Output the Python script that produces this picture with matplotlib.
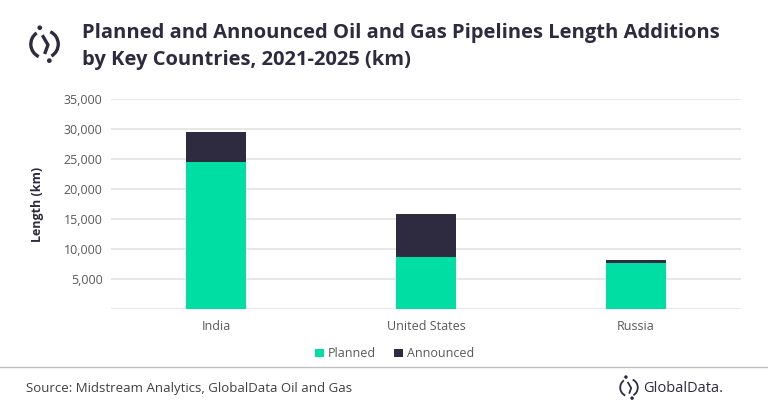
import matplotlib.pyplot as plt
from matplotlib.patches import Arc, Circle
from matplotlib.lines import Line2D

countries = ["India", "United States", "Russia"]
planned = [24600, 8700, 7600]
announced = [5000, 7100, 500]

GREEN = "#00dea4"
NAVY = "#2e2a3f"
GREY = "#595959"

plt.rcParams['font.family'] = ['Open Sans', 'DejaVu Sans']


def draw_logo(axl, lw, dots=True):
    axl.set_xlim(-1.4, 1.4)
    axl.set_ylim(-1.4, 1.4)
    axl.set_aspect("equal")
    axl.axis("off")
    axl.add_patch(Arc((0, 0), 2, 2, theta1=125, theta2=245, color=NAVY, lw=lw))
    axl.add_patch(Arc((0, 0), 2, 2, theta1=300, theta2=65, color=NAVY, lw=lw))
    axl.plot([-0.1, 0.25, 0.05], [0.55, -0.05, -0.6], color=NAVY, lw=lw)
    if dots:
        axl.add_patch(Circle((-0.35, 1.2), 0.12, color=NAVY))
        axl.add_patch(Circle((0.35, -1.2), 0.12, color=NAVY))


fig = plt.figure(figsize=(7.68, 4.11), dpi=100)
ax = fig.add_axes([0.1445, 0.2482, 0.8203, 0.5102])

x = range(len(countries))
ax.bar(x, planned, width=0.286, color=GREEN, label="Planned", zorder=3)
ax.bar(x, announced, width=0.286, bottom=planned, color=NAVY, label="Announced", zorder=3)

ax.set_xlim(-0.5, 2.5)
ax.set_ylim(0, 35000)
ax.set_yticks(range(0, 35001, 5000))
ax.set_yticklabels([""] + [f"{v:,}" for v in range(5000, 35001, 5000)])
ax.set_xticks(list(x))
ax.set_xticklabels(countries)
ax.tick_params(axis="both", length=0, labelsize=9, colors=GREY, pad=6)
ax.tick_params(axis="x", pad=8)
ax.grid(axis="y", color="#e3e3e3", linewidth=1.2, zorder=0)
for s in ax.spines.values():
    s.set_visible(False)
ax.set_ylabel("Length (km)", fontsize=9, fontweight="bold", color=NAVY, labelpad=14)

ax.legend(loc="upper center", bbox_to_anchor=(0.45, -0.13), ncol=2, frameon=False,
          fontsize=9, handlelength=0.7, handleheight=0.7, handletextpad=0.3,
          columnspacing=1.5, labelcolor=GREY)

fig.text(0.107, 0.945, "Planned and Announced Oil and Gas Pipelines Length Additions\nby Key Countries, 2021-2025 (km)",
         fontsize=14.5, fontweight="bold", color=NAVY, va="top", linespacing=1.5)

# header logo
draw_logo(fig.add_axes([0.033, 0.845, 0.05, 0.095]), 2.4)

# footer
fig.add_artist(Line2D([0, 1], [0.107, 0.107], color="#bfbfbf", lw=1))
fig.text(0.034, 0.055, "Source: Midstream Analytics, GlobalData Oil and Gas",
         fontsize=9.5, color="#404040", va="center")
draw_logo(fig.add_axes([0.803, 0.022, 0.032, 0.07]), 1.3)
fig.text(0.838, 0.055, "GlobalData.", fontsize=10.5, color=NAVY, va="center")

fig.savefig("out.png", dpi=100)
